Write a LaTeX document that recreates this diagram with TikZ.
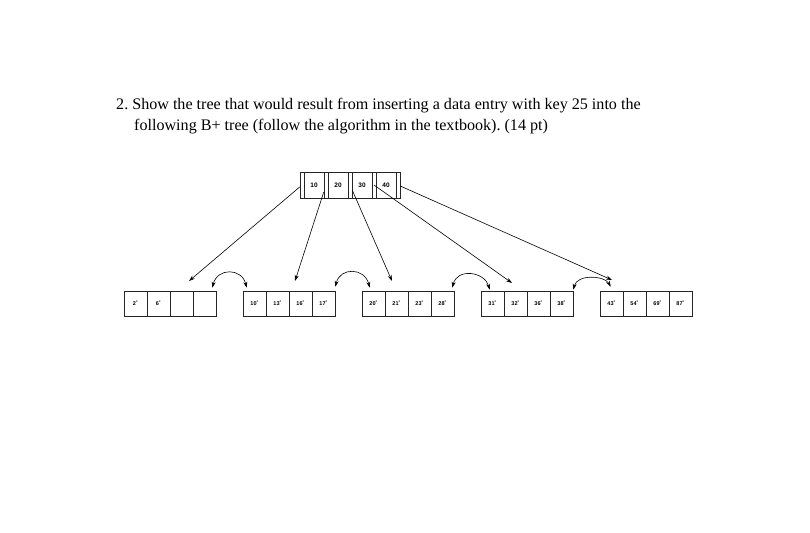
\documentclass[tikz,border=0pt]{standalone}
\usepackage{fontspec}
\setmainfont{Liberation Serif}
\setsansfont{Liberation Sans}
\usetikzlibrary{arrows.meta}
\frenchspacing

\begin{document}
\begin{tikzpicture}[x=1pt,y=-1pt,
  keycell/.style={draw=black!85,line width=0.6pt,minimum width=20pt,minimum height=26pt,inner sep=0pt,font=\sffamily\bfseries\fontsize{6.5}{7}\selectfont},
  ptrcell/.style={draw=black!85,line width=0.6pt,minimum width=4pt,minimum height=26pt,inner sep=0pt},
  leafcell/.style={draw=black!85,line width=0.6pt,minimum width=23pt,minimum height=25pt,inner sep=0pt,font=\sffamily\bfseries\fontsize{5.5}{6}\selectfont},
  ptr/.style={-{Stealth[length=6pt,width=4pt]},line width=0.6pt},
  sib/.style={{Stealth[length=6pt,width=4pt]}-{Stealth[length=6pt,width=4pt]},line width=0.6pt}]

\useasboundingbox (0,0) rectangle (810,532);

%testo
\node[anchor=base west,inner sep=0pt,font=\fontsize{16.1}{20}\selectfont] (riga1) at (116,110) {2. Show the tree that would result from inserting a data entry with key 25 into the};
\node[anchor=base west,inner sep=0pt,font=\fontsize{16.1}{20}\selectfont] (riga2) at (134,130) {following B+ tree (follow the algorithm in the textbook). (14 pt)};

%radice
\node[ptrcell] (p0) at (302,185) {};
\node[keycell] (k1) at (314,185) {10};
\node[ptrcell] (p1) at (326,185) {};
\node[keycell] (k2) at (338,185) {20};
\node[ptrcell] (p2) at (350,185) {};
\node[keycell] (k3) at (362,185) {30};
\node[ptrcell] (p3) at (374,185) {};
\node[keycell] (k4) at (386,185) {40};
\node[ptrcell] (p4) at (398,185) {};

%foglia 1
\node[leafcell] (l1a) at (135.5,303.5) {2\textsuperscript{*}};
\node[leafcell] (l1b) at (158.5,303.5) {6\textsuperscript{*}};
\node[leafcell] (l1c) at (181.5,303.5) {};
\node[leafcell] (l1d) at (204.5,303.5) {};

%foglia 2
\node[leafcell] (l2a) at (254.5,303.5) {10\textsuperscript{*}};
\node[leafcell] (l2b) at (277.5,303.5) {13\textsuperscript{*}};
\node[leafcell] (l2c) at (300.5,303.5) {16\textsuperscript{*}};
\node[leafcell] (l2d) at (323.5,303.5) {17\textsuperscript{*}};

%foglia 3
\node[leafcell] (l3a) at (373.5,303.5) {20\textsuperscript{*}};
\node[leafcell] (l3b) at (396.5,303.5) {21\textsuperscript{*}};
\node[leafcell] (l3c) at (419.5,303.5) {23\textsuperscript{*}};
\node[leafcell] (l3d) at (442.5,303.5) {28\textsuperscript{*}};

%foglia 4
\node[leafcell] (l4a) at (492.5,303.5) {31\textsuperscript{*}};
\node[leafcell] (l4b) at (515.5,303.5) {32\textsuperscript{*}};
\node[leafcell] (l4c) at (538.5,303.5) {36\textsuperscript{*}};
\node[leafcell] (l4d) at (561.5,303.5) {38\textsuperscript{*}};

%foglia 5
\node[leafcell] (l5a) at (611.5,303.5) {43\textsuperscript{*}};
\node[leafcell] (l5b) at (634.5,303.5) {54\textsuperscript{*}};
\node[leafcell] (l5c) at (657.5,303.5) {69\textsuperscript{*}};
\node[leafcell] (l5d) at (680.5,303.5) {87\textsuperscript{*}};

%punte delle frecce
\coordinate (t1) at (189,281);
\coordinate (t2) at (295,281);
\coordinate (t3) at (392,281);
\coordinate (t4) at (512,283);
\coordinate (t5) at (612,280);

%dalla radice alle foglie
\draw[ptr] (p0) -- (t1);
\draw[ptr] (p1) -- (t2);
\draw[ptr] (p2) -- (t3);
\draw[ptr] (p3.center) -- (t4);
\draw[ptr] (p4) -- (t5);

%fratelli
\draw[sib] ([xshift=-4pt,yshift=3pt]l1d.north east) .. controls +(5,-20) and +(-5,-20) .. ([xshift=4pt,yshift=3pt]l2a.north west);
\draw[sib] ([yshift=4pt]l2d.north east) .. controls +(5,-20) and +(-5,-20) .. ([xshift=8pt,yshift=3pt]l3a.north west);
\draw[sib] ([xshift=-2pt,yshift=3pt]l3d.north east) .. controls +(5,-20) and +(-5,-18) .. ([xshift=9pt,yshift=1pt]l4a.north west);
\draw[sib] ([yshift=1pt]l4d.north east) .. controls +(4,-16) and +(-6,-11) .. ([xshift=11pt,yshift=4pt]l5a.north west);

\end{tikzpicture}
\end{document}
